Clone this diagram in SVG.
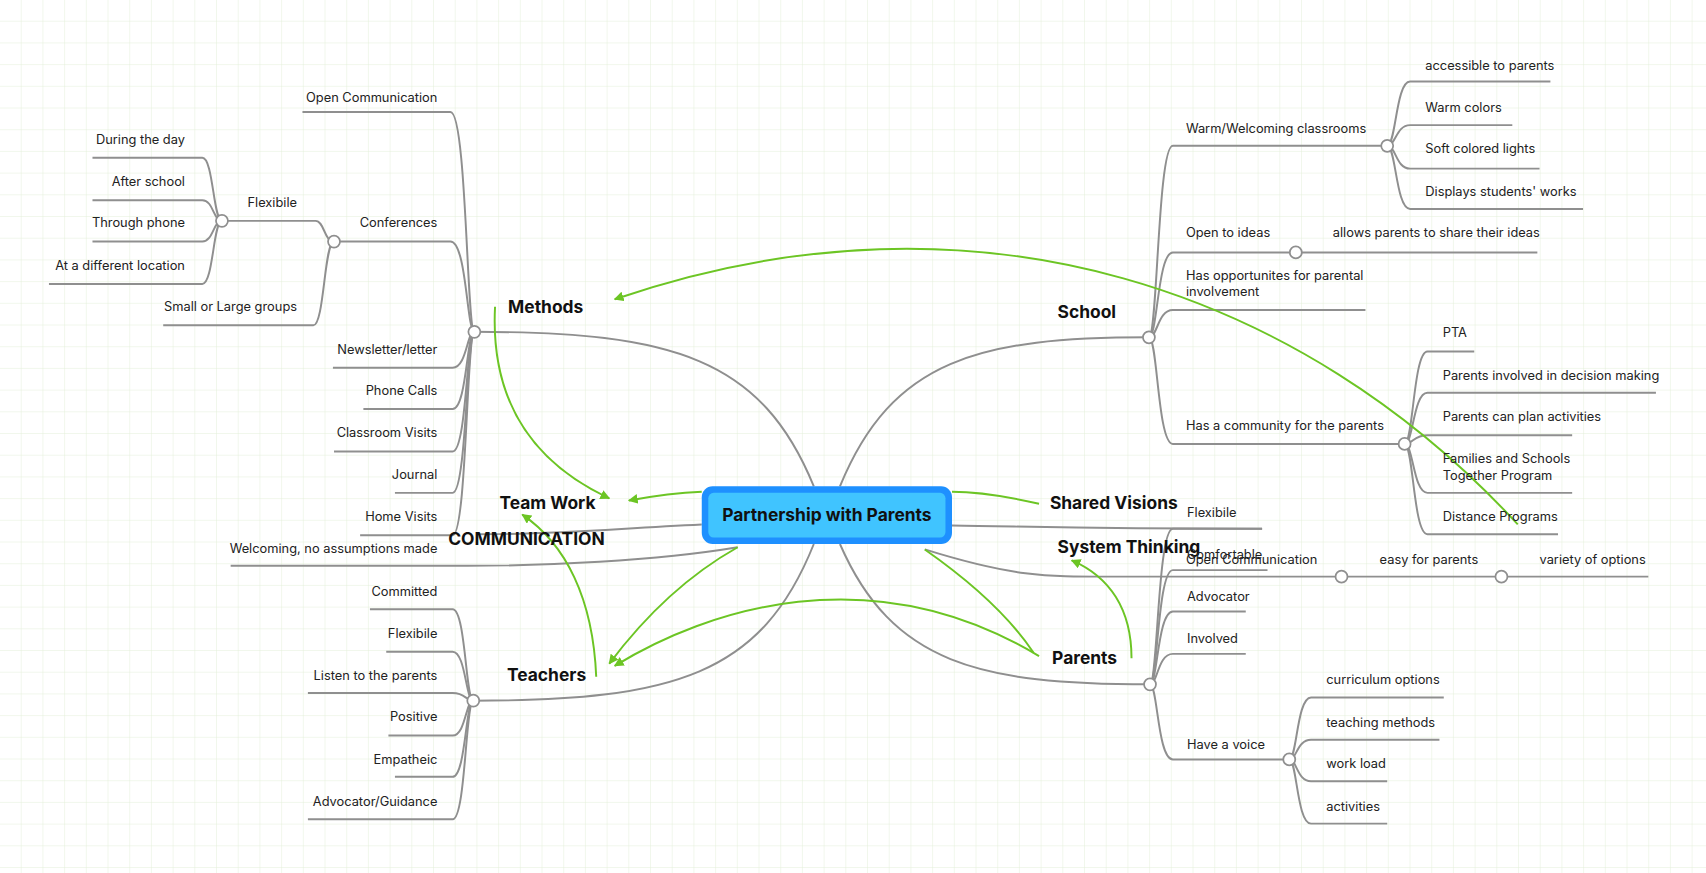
<svg xmlns="http://www.w3.org/2000/svg" width="1706" height="873" viewBox="0 0 1706 873">
<defs>
<pattern id="grid" width="21.7" height="21.7" patternUnits="userSpaceOnUse"><path d="M21.7 0V21.7H0" fill="none" stroke="#e4efd9" stroke-width="1"/></pattern>
<marker id="ah" viewBox="0 0 10 10" refX="9" refY="5" markerWidth="9" markerHeight="9" orient="auto" markerUnits="userSpaceOnUse"><path d="M0 0L10 5L0 10z" fill="#6cc524"/></marker>
</defs>
<style>
.b{fill:none;stroke:#8f8f8f;stroke-width:1.8}
.r{fill:none;stroke:#6cc524;stroke-width:1.8}
.n{fill:#fff;stroke:#8f8f8f;stroke-width:1.6}
text{font-family:Inter,"Noto Sans",sans-serif;font-size:11.8px;fill:#222}
.h{font-size:16px;font-weight:bold;fill:#111}
.e{text-anchor:end}
</style>
<rect width="1706" height="873" fill="#fff"/>
<rect width="1706" height="873" fill="url(#grid)"/>
<g transform="scale(1.088)">
<g id="connectors">
<path class="b" d="M748 447C700 330 620 305 436 305"/>
<path class="b" d="M436 305C429 305 429 103 414 103H278"/>
<path class="b" d="M436 305C429 305 429 222 414 222H307"/>
<path class="b" d="M307 222C298 222 298 203 290 203H204"/>
<path class="b" d="M307 222C298 222 298 299 288 299H150"/>
<path class="b" d="M204 203C196 203 196 145 186 145H85"/>
<path class="b" d="M204 203C196 203 196 184 186 184H85"/>
<path class="b" d="M204 203C196 203 196 222 186 222H85"/>
<path class="b" d="M204 203C196 203 196 261 186 261H45"/>
<path class="b" d="M436 305C429 305 429 338 416 338H306"/>
<path class="b" d="M436 305C429 305 429 376 416 376H334"/>
<path class="b" d="M436 305C429 305 429 415 416 415H307"/>
<path class="b" d="M436 305C429 305 429 453 416 453H363"/>
<path class="b" d="M436 305C429 305 429 492 416 492H331"/>
<path class="b" d="M645 482C560 486 520 491 440 491"/>
<path class="b" d="M678 503C600 516 500 520 430 520H212"/>
<path class="b" d="M748 500C700 620 620 644 435 644"/>
<path class="b" d="M435 644C428 644 428 560 416 560H340"/>
<path class="b" d="M435 644C428 644 428 599 416 599H355"/>
<path class="b" d="M435 644C428 644 428 637 416 637H283"/>
<path class="b" d="M435 644C428 644 428 676 416 676H357"/>
<path class="b" d="M435 644C428 644 428 714 416 714H363"/>
<path class="b" d="M435 644C428 644 428 753 416 753H283"/>
<path class="b" d="M772 447C820 330 900 310 1056 310"/>
<path class="b" d="M1056 310C1064 310 1064 134 1078 134H1275"/>
<path class="b" d="M1275 134C1283 134 1283 75 1296 75H1425"/>
<path class="b" d="M1275 134C1283 134 1283 115 1296 115H1390"/>
<path class="b" d="M1275 134C1283 134 1283 155 1296 155H1415"/>
<path class="b" d="M1275 134C1283 134 1283 192 1296 192H1455"/>
<path class="b" d="M1056 310C1064 310 1064 232 1078 232H1413"/>
<path class="b" d="M1056 310C1064 310 1064 285 1078 285H1255"/>
<path class="b" d="M1056 310C1064 310 1064 408 1078 408H1291"/>
<path class="b" d="M1291 408C1299 408 1299 323 1312 323H1355"/>
<path class="b" d="M1291 408C1299 408 1299 361 1312 361H1522"/>
<path class="b" d="M1291 408C1299 408 1299 400 1312 400H1445"/>
<path class="b" d="M1291 408C1299 408 1299 453 1312 453H1445"/>
<path class="b" d="M1291 408C1299 408 1299 491 1312 491H1432"/>
<path class="b" d="M875 483C950 484 1000 486 1160 486"/>
<path class="b" d="M850 505C930 530 960 530 1020 530H1515"/>
<path class="b" d="M772 500C820 610 900 629 1057 629"/>
<path class="b" d="M1057 629C1064 629 1064 486 1078 486H1160"/>
<path class="b" d="M1057 629C1064 629 1064 524 1078 524H1165"/>
<path class="b" d="M1057 629C1064 629 1064 562 1078 562H1145"/>
<path class="b" d="M1057 629C1064 629 1064 601 1078 601H1145"/>
<path class="b" d="M1057 629C1064 629 1064 698 1078 698H1185"/>
<path class="b" d="M1185 698C1192 698 1192 641 1205 641H1327"/>
<path class="b" d="M1185 698C1192 698 1192 680 1205 680H1323"/>
<path class="b" d="M1185 698C1192 698 1192 718 1205 718H1275"/>
<path class="b" d="M1185 698C1192 698 1192 757 1205 757H1275"/>
<path class="r" d="M1395 482C1200 270 900 160 565 275" marker-end="url(#ah)"/>
<path class="r" d="M455 282C450 380 500 430 560 458" marker-end="url(#ah)"/>
<path class="r" d="M645 452C620 453 600 456 578 460" marker-end="url(#ah)"/>
<path class="r" d="M955 463C920 455 890 452 875 452"/>
<path class="r" d="M548 622C545 550 520 500 480 473" marker-end="url(#ah)"/>
<path class="r" d="M678 503C630 530 590 570 560 610" marker-end="url(#ah)"/>
<path class="r" d="M955 603C800 510 650 560 565 612" marker-end="url(#ah)"/>
<path class="r" d="M850 505C900 540 930 570 950 600"/>
<path class="r" d="M1040 605C1040 560 1020 530 985 515" marker-end="url(#ah)"/>
</g>
<g id="center"><rect x="645" y="447" width="230" height="53" rx="10" fill="#1e90ff"/><rect x="651" y="453" width="218" height="41" rx="5" fill="#40c4ff"/><text x="760" y="479" class="h" text-anchor="middle">Partnership with Parents</text></g>
<g id="methods"><text x="467" y="288" class="h">Methods</text><circle class="n" cx="436" cy="305" r="5.5"/>
<text x="402" y="94" class="e">Open Communication</text><text x="402" y="209" class="e">Conferences</text><circle class="n" cx="307" cy="222" r="5.5"/>
<text x="273" y="190" class="e">Flexibile</text><circle class="n" cx="204" cy="203" r="5.5"/><text x="273" y="286" class="e">Small or Large groups</text>
<text x="170" y="132" class="e">During the day</text><text x="170" y="171" class="e">After school</text><text x="170" y="209" class="e">Through phone</text><text x="170" y="248" class="e">At a different location</text>
<text x="402" y="325" class="e">Newsletter/letter</text><text x="402" y="363" class="e">Phone Calls</text><text x="402" y="402" class="e">Classroom Visits</text><text x="402" y="440" class="e">Journal</text><text x="402" y="479" class="e">Home Visits</text></g>
<g id="teamwork"><text x="459" y="468" class="h">Team Work</text></g>
<g id="communication"><text x="412" y="501" class="h">COMMUNICATION</text><text x="402" y="508" class="e">Welcoming, no assumptions made</text></g>
<g id="teachers"><text x="466" y="626" class="h">Teachers</text><circle class="n" cx="435" cy="644" r="5.5"/>
<text x="402" y="548" class="e">Committed</text><text x="402" y="586" class="e">Flexibile</text><text x="402" y="625" class="e">Listen to the parents</text><text x="402" y="663" class="e">Positive</text><text x="402" y="702" class="e">Empatheic</text><text x="402" y="741" class="e">Advocator/Guidance</text></g>
<g id="school"><text x="972" y="292" class="h">School</text><circle class="n" cx="1056" cy="310" r="5.5"/>
<text x="1090" y="122">Warm/Welcoming classrooms</text><circle class="n" cx="1275" cy="134" r="5.5"/>
<text x="1310" y="64">accessible to parents</text><text x="1310" y="103">Warm colors</text><text x="1310" y="141">Soft colored lights</text><text x="1310" y="180">Displays students' works</text>
<text x="1090" y="218">Open to ideas</text><circle class="n" cx="1191" cy="232" r="5.5"/><text x="1225" y="218">allows parents to share their ideas</text>
<text x="1090" y="257">Has opportunites for parental</text><text x="1090" y="272">involvement</text>
<text x="1090" y="395">Has a community for the parents</text><circle class="n" cx="1291" cy="408" r="5.5"/>
<text x="1326" y="310">PTA</text><text x="1326" y="349">Parents involved in decision making</text><text x="1326" y="387">Parents can plan activities</text><text x="1326" y="426">Families and Schools</text><text x="1326" y="441">Together Program</text><text x="1326" y="479">Distance Programs</text></g>
<g id="sharedvisions"><text x="965" y="468" class="h">Shared Visions</text></g>
<g id="systemthinking"><text x="972" y="508" class="h">System Thinking</text><text x="1090" y="518">Open Communication</text><circle class="n" cx="1233" cy="530" r="5.5"/><text x="1268" y="518">easy for parents</text><circle class="n" cx="1380" cy="530" r="5.5"/><text x="1415" y="518">variety of options</text></g>
<g id="parents"><text x="967" y="610" class="h">Parents</text><circle class="n" cx="1057" cy="629" r="5.5"/>
<text x="1091" y="475">Flexibile</text><text x="1091" y="514">Comfortable</text><text x="1091" y="552">Advocator</text><text x="1091" y="591">Involved</text><text x="1091" y="688">Have a voice</text><circle class="n" cx="1185" cy="698" r="5.5"/>
<text x="1219" y="629">curriculum options</text><text x="1219" y="668">teaching methods</text><text x="1219" y="706">work load</text><text x="1219" y="745">activities</text></g>
</g>
</svg>
